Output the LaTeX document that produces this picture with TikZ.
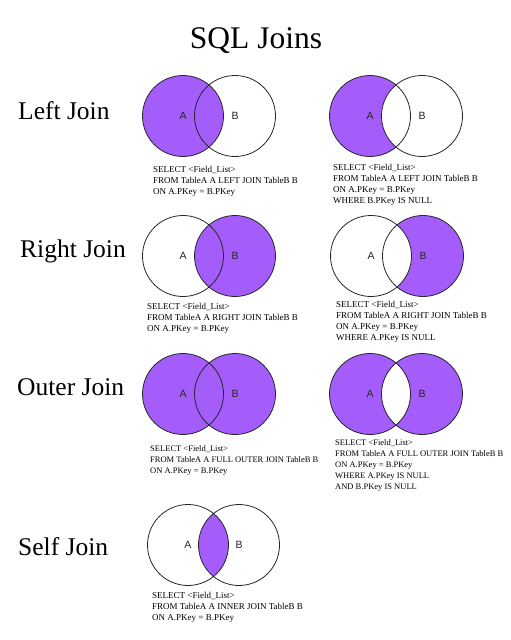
\documentclass[tikz,border=0pt]{standalone}
\usepackage{fontspec}
\setmainfont{Liberation Serif}
\newfontfamily\labfont{Liberation Sans}
\definecolor{joinpurple}{RGB}{164,92,250}
\begin{document}
\begin{tikzpicture}[x=1pt,y=-1pt,
  ring/.style={draw=black!85, line width=0.8pt},
  pfill/.style={fill=joinpurple},
  lab/.style={font=\labfont\fontsize{10.5}{12}\selectfont, text=black!85, inner sep=0},
  sql/.style={anchor=north west, inner sep=0, align=left, font=\fontsize{9}{11}\selectfont},
  sqlnarrow/.style={sql, font=\fontsize{8.5}{11}\selectfont},
  head/.style={anchor=base west, inner sep=0, font=\fontsize{25.5}{30}\selectfont},
  title/.style={anchor=base, inner sep=0, font=\fontsize{31.5}{36}\selectfont}]
\useasboundingbox (0,0) rectangle (511,640);
\fill[white] (0,0) rectangle (511,640);
\def\R{40.5pt}

\node[title] (t) at (256,48) {SQL Joins};
\node[head] (h1) at (18,119) {Left Join};
\node[head] (h2) at (20,257) {Right Join};
\node[head] (h3) at (17,395) {Outer Join};
\node[head] (h4) at (18,555) {Self Join};

% Row 1 left: left join
\fill[pfill] (183,116) circle (\R);
\draw[ring] (183,116) circle (\R) (235,116) circle (\R);
% Row 1 right: left join excluding
\fill[pfill] (370,116) circle (\R);
\fill[white] (422,116) circle (\R);
\draw[ring] (370,116) circle (\R) (422,116) circle (\R);
% Row 2 left: right join
\fill[pfill] (235,256) circle (\R);
\draw[ring] (183,256) circle (\R) (235,256) circle (\R);
% Row 2 right: right join excluding
\fill[pfill] (423,256) circle (\R);
\fill[white] (371,256) circle (\R);
\draw[ring] (371,256) circle (\R) (423,256) circle (\R);
% Row 3 left: full outer
\fill[pfill] (183,394) circle (\R) (235,394) circle (\R);
\draw[ring] (183,394) circle (\R) (235,394) circle (\R);
% Row 3 right: outer excluding
\fill[pfill, even odd rule] (370,394) circle (\R) (422,394) circle (\R);
\draw[ring] (370,394) circle (\R) (422,394) circle (\R);
% Row 4: inner
\begin{scope}
  \clip (188,545) circle (\R);
  \fill[pfill] (239,545) circle (\R);
\end{scope}
\draw[ring] (188,545) circle (\R) (239,545) circle (\R);

\node[lab] (a1) at (183,116) {A};  \node[lab] (b1) at (235,116) {B};
\node[lab] (a2) at (370,116) {A};  \node[lab] (b2) at (422,116) {B};
\node[lab] (a3) at (183,256) {A};  \node[lab] (b3) at (235,256) {B};
\node[lab] (a4) at (371,256) {A};  \node[lab] (b4) at (423,256) {B};
\node[lab] (a5) at (183,394) {A};  \node[lab] (b5) at (235,394) {B};
\node[lab] (a6) at (370,394) {A};  \node[lab] (b6) at (422,394) {B};
\node[lab] (a7) at (188,545) {A};  \node[lab] (b7) at (239,545) {B};

\node[sql] (q1) at (153,166) {SELECT <Field\_List>\\FROM TableA A LEFT JOIN TableB B\\ON A.PKey = B.PKey};
\node[sql] (q2) at (333,164) {SELECT <Field\_List>\\FROM TableA A LEFT JOIN TableB B\\ON A.PKey = B.PKey\\WHERE B.PKey IS NULL};
\node[sql] (q3) at (147,303) {SELECT <Field\_List>\\FROM TableA A RIGHT JOIN TableB B\\ON A.PKey = B.PKey};
\node[sql] (q4) at (336,301) {SELECT <Field\_List>\\FROM TableA A RIGHT JOIN TableB B\\ON A.PKey = B.PKey\\WHERE A.PKey IS NULL};
\node[sqlnarrow] (q5) at (150,445) {SELECT <Field\_List>\\FROM TableA A FULL OUTER JOIN TableB B\\ON A.PKey = B.PKey};
\node[sqlnarrow] (q6) at (335,439) {SELECT <Field\_List>\\FROM TableA A FULL OUTER JOIN TableB B\\ON A.PKey = B.PKey\\WHERE A.PKey IS NULL\\AND B.PKey IS NULL};
\node[sql] (q7) at (152,592) {SELECT <Field\_List>\\FROM TableA A INNER JOIN TableB B\\ON A.PKey = B.PKey};
\end{tikzpicture}
\end{document}
